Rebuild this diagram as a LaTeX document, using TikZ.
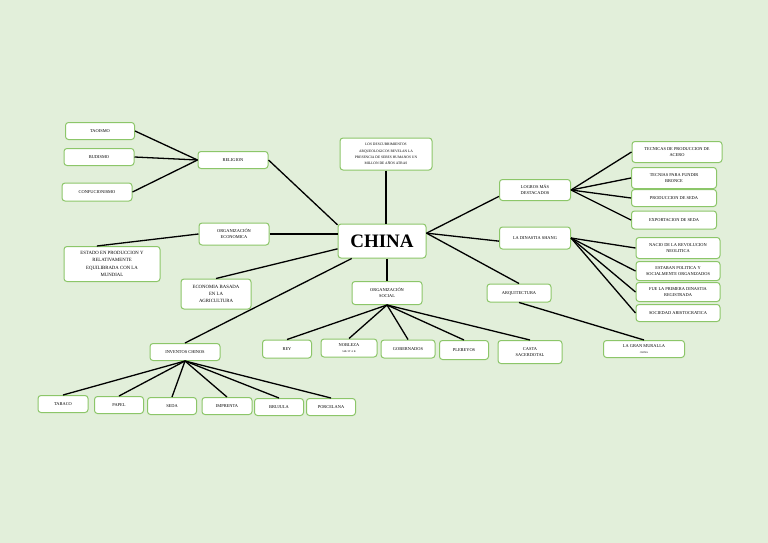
\documentclass[tikz,border=0pt]{standalone}
\usepackage{fontspec}
\setmainfont{Liberation Serif}
\usetikzlibrary{positioning}
\definecolor{paper}{RGB}{226,239,218}
\definecolor{boxgreen}{RGB}{140,198,105}
\tikzset{
  topic/.style={draw=boxgreen, line width=1pt, fill=white,
                rounded corners=3pt, inner sep=1pt, align=center,
                minimum height=17pt, font=\fontsize{4.4}{6}\selectfont},
  bigtopic/.style={topic, font=\fontsize{4.8}{7.2}\selectfont},
  smalltopic/.style={topic, font=\fontsize{3.6}{6.2}\selectfont},
  hub/.style={topic, minimum width=88pt, minimum height=34pt,
              font=\fontsize{19}{21}\selectfont\bfseries},
  link/.style={black, line width=1.3pt},
}

\begin{document}
\begin{tikzpicture}[x=1pt,y=-1pt]
  \path[use as bounding box, fill=paper] (0,0) rectangle (768,543);

  \node[hub] (china) at (382,241) {CHINA};

  % Religion branch.
  \node[topic, minimum width=70pt] (religion) at (233,160) {RELIGION};
  \node[topic, minimum width=69pt] (taoismo) at (100,131) {TAOISMO};
  \node[topic, minimum width=70pt] (budismo) at (99,157) {BUDISMO};
  \node[topic, minimum width=70pt, minimum height=18pt] (confucio) at (97,192) {CONFUCIONISMO};

  \node[smalltopic, minimum width=92pt, minimum height=32pt] (origen) at (386,154)
    {LOS DESCUBRIMIENTOS\\ARQUEOLOGICOS REVELAN LA\\PRESENCIA DE SERES HUMANOS UN\\MILLON DE AÑOS ATRAS};

  % Economic organization.
  \node[topic, minimum width=70pt, minimum height=22pt] (economia) at (234,234)
    {ORGANIZACIÓN\\ECONOMICA};
  \node[bigtopic, minimum width=96pt, minimum height=35pt] (estado) at (112,264)
    {ESTADO EN PRODUCCION Y\\RELATIVAMENTE\\EQUILIBRADA CON LA\\MUNDIAL};
  \node[bigtopic, minimum width=70pt, minimum height=30pt] (agro) at (216,294)
    {ECONOMIA BASADA\\EN LA\\AGRICULTURA};

  % Inventions.
  \node[topic, minimum width=70pt] (inventos) at (185,352) {INVENTOS CHINOS};
  \node[topic, minimum width=50pt] (tabaco) at (63,404) {TABACO};
  \node[topic, minimum width=49pt] (papel) at (119,405) {PAPEL};
  \node[topic, minimum width=49pt] (seda) at (172,406) {SEDA};
  \node[topic, minimum width=50pt] (imprenta) at (227,406) {IMPRENTA};
  \node[topic, minimum width=49pt] (brujula) at (279,407) {BRUJULA};
  \node[topic, minimum width=49pt] (porcelana) at (331,407) {PORCELANA};

  % Social organization.
  \node[topic, minimum width=70pt, minimum height=23pt] (social) at (387,293)
    {ORGANIZACIÓN\\SOCIAL};
  \node[topic, minimum width=49pt, minimum height=18pt] (rey) at (287,349) {REY};
  \node[topic, minimum width=56pt, minimum height=18pt] (nobleza) at (349,348)
    {NOBLEZA\\{\fontsize{2.6}{3}\selectfont SHU IT A B}};
  \node[topic, minimum width=54pt, minimum height=18pt] (gobernados) at (408,349) {GOBERNADOS};
  \node[topic, minimum width=49pt, minimum height=19pt] (plebeyos) at (464,350) {PLEBEYOS};
  \node[topic, minimum width=64pt, minimum height=23pt] (casta) at (530,352)
    {CASTA\\SACERDOTAL};

  % Architecture.
  \node[topic, minimum width=64pt, minimum height=18pt] (arquitectura) at (519,293) {ARQUITECTURA};
  \node[topic, minimum width=81pt] (muralla) at (644,349)
    {LA GRAN MURALLA\\{\fontsize{2.6}{3}\selectfont CHINA}};

  % Achievements and the Shang dynasty.
  \node[topic, minimum width=71pt, minimum height=21pt] (logros) at (535,190)
    {LOGROS MÁS\\DESTACADOS};
  \node[topic, minimum width=71pt, minimum height=22pt] (shang) at (535,238) {LA DINASTIA SHANG};

  \node[topic, minimum width=90pt, minimum height=21pt] (acero) at (677,152)
    {TECNICAS DE PRODUCCION DE\\ACERO};
  \node[topic, minimum width=85pt, minimum height=21pt] (bronce) at (674,178)
    {TECNIAS PARA FUNDIR\\BRONCE};
  \node[topic, minimum width=85pt] (prodseda) at (674,198) {PRODUCCION DE SEDA};
  \node[topic, minimum width=85pt, minimum height=18pt] (exportseda) at (674,220) {EXPORTACION DE SEDA};

  \node[topic, minimum width=84pt, minimum height=21pt] (neolitica) at (678,248)
    {NACIO DE LA REVOLUCION\\NEOLITICA};
  \node[topic, minimum width=84pt, minimum height=19pt] (organizados) at (678,271)
    {ESTABAN POLITICA Y\\SOCIALMENTE ORGANIZADOS};
  \node[topic, minimum width=84pt, minimum height=19pt] (registrada) at (678,292)
    {FUE LA PRIMERA DINASTIA\\REGISTRADA};
  \node[topic, minimum width=84pt] (aristocratica) at (678,313) {SOCIEDAD ARISTOCRATICA};

  % Connectors.
  \draw[link] (religion.east) -- (china.160);
  \draw[link] (religion.west) -- (taoismo.east);
  \draw[link] (religion.west) -- (budismo.east);
  \draw[link] (religion.west) -- (confucio.east);
  \draw[link] (origen.south) -- (origen.south |- china.north);
  \draw[link] (economia.east) -- (economia.east -| china.west);
  \draw[link] (economia.west) -- (estado.130);
  \draw[link] (china.190) -- (agro.north);
  \draw[link] (china.210) -- (inventos.north);
  \foreach \leaf in {tabaco,papel,seda,imprenta,brujula,porcelana}
    \draw[link] (inventos.south) -- (\leaf.north);
  \draw[link] (social.north |- china.south) -- (social.north);
  \foreach \leaf in {rey,nobleza,gobernados,plebeyos,casta}
    \draw[link] (social.south) -- (\leaf.north);
  \draw[link] (china.10) -- (arquitectura.north);
  \draw[link] (arquitectura.south) -- (muralla.north);
  \draw[link] (china.10) -- (logros.190);
  \draw[link] (china.10) -- (shang.185);
  \foreach \leaf in {acero,bronce,prodseda,exportseda}
    \draw[link] (logros.east) -- (\leaf.west);
  \foreach \leaf in {neolitica,organizados,registrada,aristocratica}
    \draw[link] (shang.east) -- (\leaf.west);
\end{tikzpicture}
\end{document}
